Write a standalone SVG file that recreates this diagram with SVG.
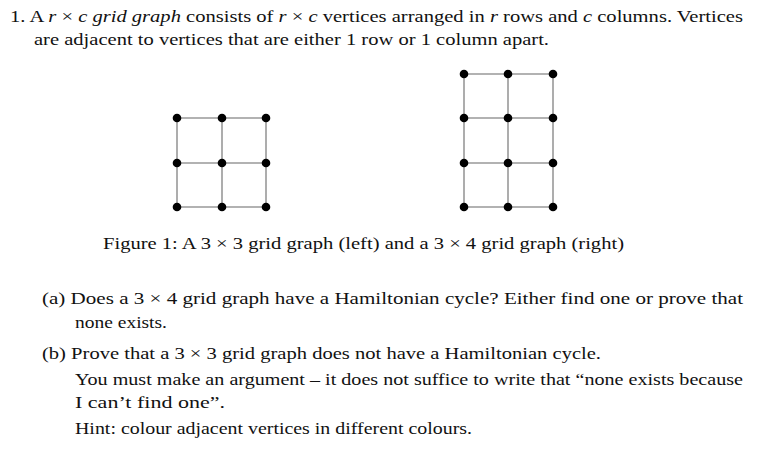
<svg xmlns="http://www.w3.org/2000/svg" width="781" height="454" viewBox="0 0 781 454">
<style>
text{font-family:"Liberation Serif","Times New Roman",Times,serif;font-size:17px;fill:#111}
.e{stroke:#999;stroke-width:1.6;fill:none}
.v{fill:#000}
</style>
<rect width="781" height="454" fill="#fff"/>
<text x="10" y="22" textLength="733" lengthAdjust="spacingAndGlyphs">1. A <tspan font-style="italic">r</tspan> × <tspan font-style="italic">c</tspan> <tspan font-style="italic">grid graph</tspan> consists of <tspan font-style="italic">r</tspan> × <tspan font-style="italic">c</tspan> vertices arranged in <tspan font-style="italic">r</tspan> rows and <tspan font-style="italic">c</tspan> columns. Vertices</text>
<text x="34" y="45" textLength="515" lengthAdjust="spacingAndGlyphs">are adjacent to vertices that are either 1 row or 1 column apart.</text>
<g id="connectors">
<path class="e" d="M177 118H266M177 163H266M177 207H266M177 118V207M222 118V207M266 118V207"/>
<path class="e" d="M464 74H553M464 118H553M464 163H553M464 207H553M464 74V207M508 74V207M553 74V207"/>
</g>
<g id="grid3x3" class="v">
<circle cx="177" cy="118" r="4.3"/><circle cx="222" cy="118" r="4.3"/><circle cx="266" cy="118" r="4.3"/>
<circle cx="177" cy="163" r="4.3"/><circle cx="222" cy="163" r="4.3"/><circle cx="266" cy="163" r="4.3"/>
<circle cx="177" cy="207" r="4.3"/><circle cx="222" cy="207" r="4.3"/><circle cx="266" cy="207" r="4.3"/>
</g>
<g id="grid3x4" class="v">
<circle cx="464" cy="74" r="4.3"/><circle cx="508" cy="74" r="4.3"/><circle cx="553" cy="74" r="4.3"/>
<circle cx="464" cy="118" r="4.3"/><circle cx="508" cy="118" r="4.3"/><circle cx="553" cy="118" r="4.3"/>
<circle cx="464" cy="163" r="4.3"/><circle cx="508" cy="163" r="4.3"/><circle cx="553" cy="163" r="4.3"/>
<circle cx="464" cy="207" r="4.3"/><circle cx="508" cy="207" r="4.3"/><circle cx="553" cy="207" r="4.3"/>
</g>
<text x="103" y="249" textLength="521" lengthAdjust="spacingAndGlyphs">Figure 1: A 3 × 3 grid graph (left) and a 3 × 4 grid graph (right)</text>
<text x="42" y="304" textLength="701" lengthAdjust="spacingAndGlyphs">(a) Does a 3 × 4 grid graph have a Hamiltonian cycle? Either find one or prove that</text>
<text x="75" y="328" textLength="92" lengthAdjust="spacingAndGlyphs">none exists.</text>
<text x="42" y="359" textLength="559" lengthAdjust="spacingAndGlyphs">(b) Prove that a 3 × 3 grid graph does not have a Hamiltonian cycle.</text>
<text x="75" y="385" textLength="668" lengthAdjust="spacingAndGlyphs">You must make an argument – it does not suffice to write that “none exists because</text>
<text x="75" y="408" textLength="150" lengthAdjust="spacingAndGlyphs">I can’t find one”.</text>
<text x="75" y="434" textLength="397" lengthAdjust="spacingAndGlyphs">Hint: colour adjacent vertices in different colours.</text>
</svg>
